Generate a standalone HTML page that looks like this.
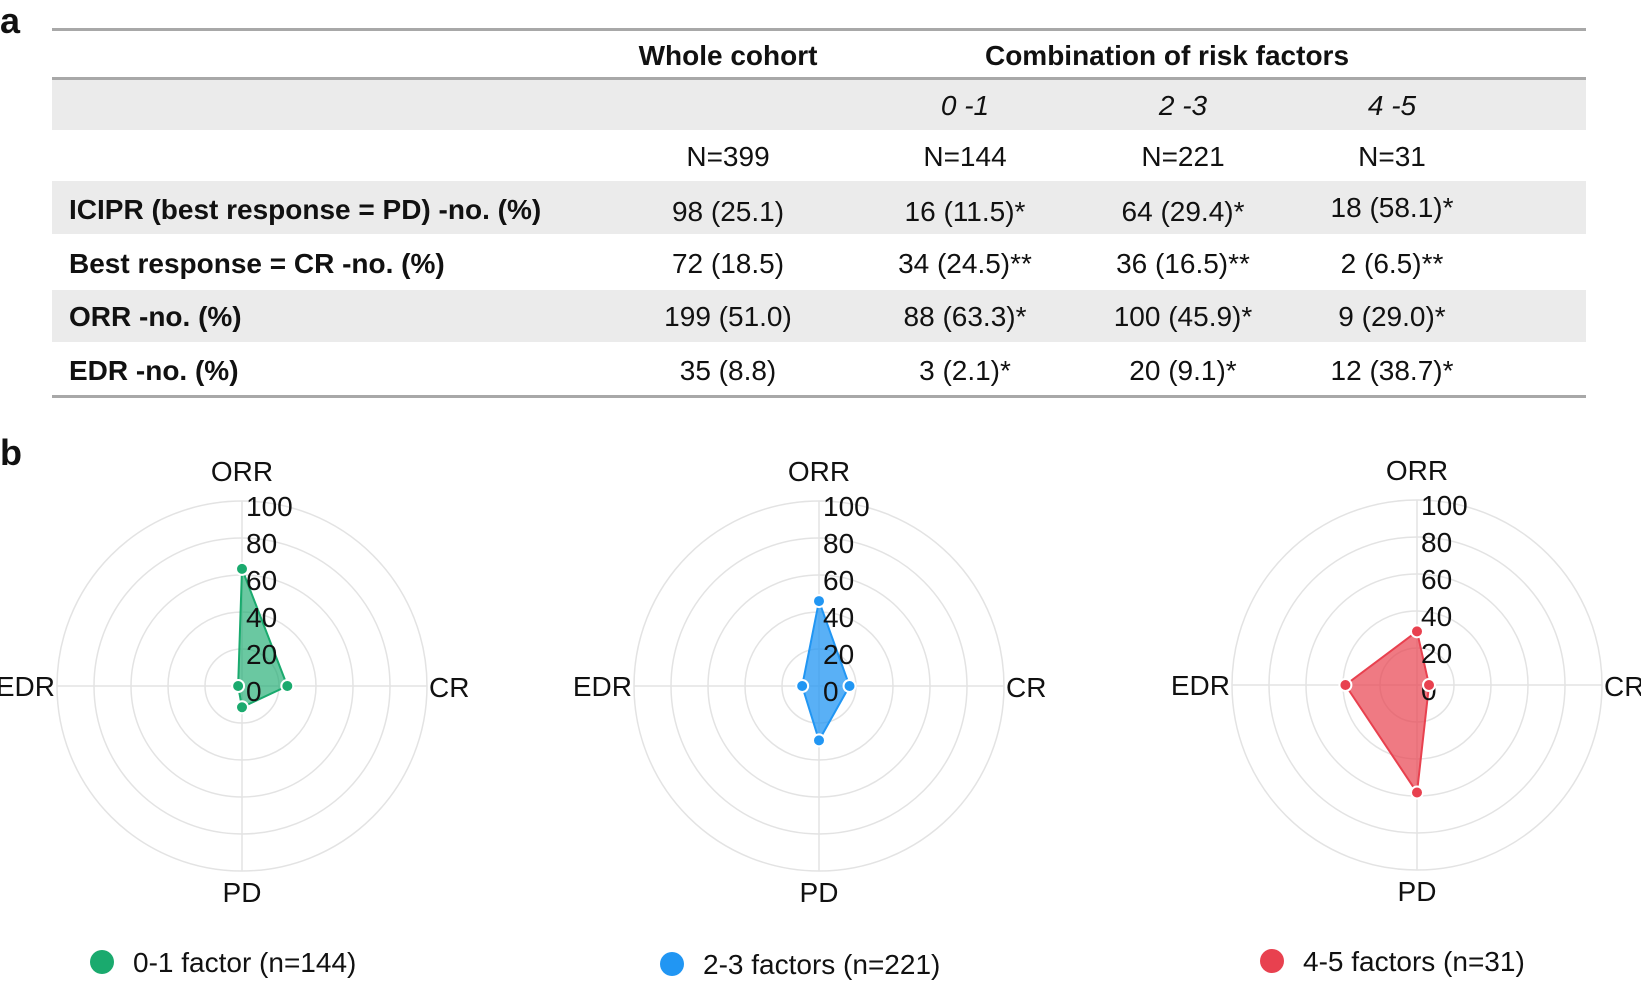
<!DOCTYPE html>
<html><head><meta charset="utf-8">
<style>
html,body{margin:0;padding:0;background:#fff;}
body{width:1641px;height:990px;position:relative;overflow:hidden;font-family:"Liberation Sans",Arial,sans-serif;color:#111;}
.abs{position:absolute;}
.c{position:absolute;transform:translateX(-50%);white-space:nowrap;}
.band{position:absolute;left:52px;width:1534px;background:#ebebeb;}
.hr{position:absolute;left:52px;width:1534px;height:3px;background:#a8a8a8;}
.lbl{position:absolute;left:69px;font-weight:bold;font-size:28px;white-space:nowrap;}
.v{font-size:28px;}
</style></head>
<body>
<div class="abs" style="left:0;top:0px;font-size:36px;font-weight:bold;">a</div>
<div class="abs" style="left:0;top:432px;font-size:36px;font-weight:bold;">b</div>

<div>
<div class="hr" style="top:28px;"></div>
<div class="c" style="left:728px;top:40px;font-size:28px;font-weight:bold;">Whole cohort</div>
<div class="c" style="left:1167px;top:40px;font-size:28px;font-weight:bold;">Combination of risk factors</div>
<div class="hr" style="top:77px;"></div>
<div class="band" style="top:80px;height:50px;"></div>
<div class="c v" style="left:965px;top:90px;font-style:italic;">0 -1</div>
<div class="c v" style="left:1183px;top:90px;font-style:italic;">2 -3</div>
<div class="c v" style="left:1392px;top:90px;font-style:italic;">4 -5</div>
<div class="c v" style="left:728px;top:141px;">N=399</div>
<div class="c v" style="left:965px;top:141px;">N=144</div>
<div class="c v" style="left:1183px;top:141px;">N=221</div>
<div class="c v" style="left:1392px;top:141px;">N=31</div>

<div class="band" style="top:181px;height:53px;"></div>
<div class="lbl" style="top:194px;">ICIPR (best response = PD) -no. (%)</div>
<div class="c v" style="left:728px;top:196px;">98 (25.1)</div>
<div class="c v" style="left:965px;top:196px;">16 (11.5)*</div>
<div class="c v" style="left:1183px;top:196px;">64 (29.4)*</div>
<div class="c v" style="left:1392px;top:192px;">18 (58.1)*</div>

<div class="lbl" style="top:248px;">Best response = CR -no. (%)</div>
<div class="c v" style="left:728px;top:248px;">72 (18.5)</div>
<div class="c v" style="left:965px;top:248px;">34 (24.5)**</div>
<div class="c v" style="left:1183px;top:248px;">36 (16.5)**</div>
<div class="c v" style="left:1392px;top:248px;">2 (6.5)**</div>

<div class="band" style="top:290px;height:52px;"></div>
<div class="lbl" style="top:301px;">ORR -no. (%)</div>
<div class="c v" style="left:728px;top:301px;">199 (51.0)</div>
<div class="c v" style="left:965px;top:301px;">88 (63.3)*</div>
<div class="c v" style="left:1183px;top:301px;">100 (45.9)*</div>
<div class="c v" style="left:1392px;top:301px;">9 (29.0)*</div>

<div class="lbl" style="top:355px;">EDR -no. (%)</div>
<div class="c v" style="left:728px;top:355px;">35 (8.8)</div>
<div class="c v" style="left:965px;top:355px;">3 (2.1)*</div>
<div class="c v" style="left:1183px;top:355px;">20 (9.1)*</div>
<div class="c v" style="left:1392px;top:355px;">12 (38.7)*</div>
<div class="hr" style="top:395px;"></div>
</div>

<svg id="radar" width="1641" height="990" style="position:absolute;left:0;top:0;"></svg>

<script>
const axes = ["ORR","CR","PD","EDR"];
const ticks = [0,20,40,60,80,100];
const groups = ["0-1 factor (n=144)","2-3 factors (n=221)","4-5 factors (n=31)"];
const orrVals = [63.3,45.9,29.0];
const crVals = [24.5,16.5,6.5];
const pdVals = [11.5,29.4,58.1];
const edrVals = [2.1,9.1,38.7];
const lineColors = ["#1aaa6e","#2196f3","#e8414f"];
const fillColors = ["rgba(26,170,110,0.65)","rgba(33,150,243,0.75)","rgba(232,65,79,0.7)"];
const centers = [[242,686],[819,686],[1417,685]];
const R = 185;
const NS="http://www.w3.org/2000/svg";
const svg=document.getElementById('radar');
function mk(t,a){const e=document.createElementNS(NS,t);for(const k in a)e.setAttribute(k,a[k]);return e;}
function rScale(v){return v/100*R;}
const angles=[-Math.PI/2,0,Math.PI/2,Math.PI];
for(let g=0;g<3;g++){
  const [cx,cy]=centers[g];
  const grp=mk('g',{});
  
  
  svg.appendChild(grp);
  ticks.forEach(t=>{ if(t>0){const c=mk('circle',{cx:cx,cy:cy,r:rScale(t),fill:'none',stroke:'#e3e3e3','stroke-width':1.5});
    
    
    grp.appendChild(c);} });
  const hl=mk('line',{x1:cx-R,y1:cy,x2:cx+R,y2:cy,stroke:'#e3e3e3','stroke-width':1.5});
  
  
  grp.appendChild(hl);
  const vl=mk('line',{x1:cx,y1:cy-R,x2:cx,y2:cy+R,stroke:'#e3e3e3','stroke-width':1.5});
  
  
  grp.appendChild(vl);
  const vals=[orrVals[g],crVals[g],pdVals[g],edrVals[g]];
  const pts=vals.map((v,i)=>[cx+rScale(v)*Math.cos(angles[i]),cy+rScale(v)*Math.sin(angles[i])]);
  const poly=mk('polygon',{points:pts.map(p=>p.join(',')).join(' '),fill:fillColors[g],stroke:lineColors[g],'stroke-width':2});
  
  
  grp.appendChild(poly);
  ticks.forEach(t=>{const tx=mk('text',{x:cx+4,y:cy-rScale(t)+15,'font-size':28,fill:'#111','font-family':'Liberation Sans, sans-serif'});
    tx.textContent=t;
    
    
    grp.appendChild(tx);});
  pts.forEach((p,i)=>{const c=mk('circle',{cx:p[0],cy:p[1],r:6,fill:lineColors[g],stroke:'#fff','stroke-width':2});
    
    
    grp.appendChild(c);});
  const labPos=[[cx,cy-R-20,'middle'],[cx+R+2,cy+11,'start'],[cx,cy+R+31,'middle'],[cx-R-2,cy+10,'end']];
  axes.forEach((a,i)=>{const tx=mk('text',{x:labPos[i][0],y:labPos[i][1],'text-anchor':labPos[i][2],'font-size':28,fill:'#111','font-family':'Liberation Sans, sans-serif'});
    tx.textContent=a;
    
    
    grp.appendChild(tx);});
}
const legPos=[[102,962],[672,964],[1272,961]];
groups.forEach((name,g)=>{
  const lg=mk('g',{});
  
  
  svg.appendChild(lg);
  lg.appendChild(mk('circle',{cx:legPos[g][0],cy:legPos[g][1],r:12,fill:lineColors[g]}));
  const tx=mk('text',{x:legPos[g][0]+31,y:legPos[g][1]+10,'font-size':28,fill:'#111','font-family':'Liberation Sans, sans-serif'});
  tx.textContent=name;
  lg.appendChild(tx);
});
</script>
</body></html>
